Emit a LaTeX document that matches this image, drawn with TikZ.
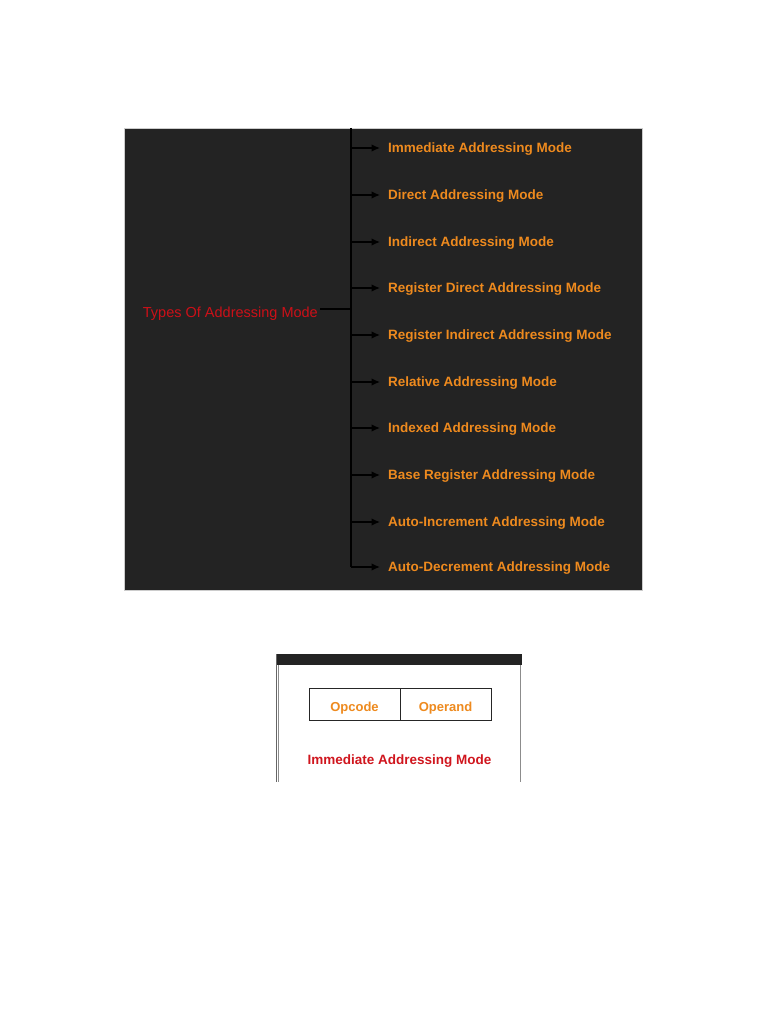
\documentclass[tikz,border=0pt]{standalone}
\usepackage{fontspec}
\setmainfont{Liberation Sans}
\usetikzlibrary{arrows.meta}
\definecolor{panel}{HTML}{232323}
\definecolor{modeorange}{HTML}{EE8A1E}
\definecolor{rootred}{HTML}{CC1018}
\definecolor{capred}{HTML}{D0161E}
\tikzset{
  mode/.style={anchor=west, inner xsep=8pt, inner ysep=0pt, text height=9.7pt, text depth=0pt,
    font=\fontsize{13.5}{15}\selectfont\bfseries, text=modeorange},
  spine/.style={black, line width=1.5pt},
  branch/.style={black, line width=1.3pt, -{Latex[length=8.5pt,width=7.5pt]}},
  field/.style={draw=black!85, line width=1pt, minimum width=91pt, minimum height=32pt,
    inner sep=0pt, text height=14pt, text depth=0pt,
    font=\fontsize{13}{15}\selectfont\bfseries, text=modeorange},
}
\begin{document}
\begin{tikzpicture}[x=1pt,y=-1pt]
\useasboundingbox (0,0) rectangle (768,1024);
\fill[white] (0,0) rectangle (768,1024);
% dark panel
\fill[panel] (124,128) rectangle (642,590);
\draw[black!20, line width=0.6pt] (124,128) rectangle (642,590);
% root
\node[anchor=east, inner xsep=2pt, inner ysep=1pt, text height=10pt, text depth=0pt,
  font=\fontsize{14.5}{16}\selectfont, text=rootred] (root) at (320,312) {Types Of Addressing Mode};
\coordinate (top) at (351,128);
\coordinate (junc) at (351,309);
\coordinate (bot) at (351,567);
\draw[spine] (top) -- (bot);
\draw[black, line width=1.5pt] (root.east |- junc) -- (junc);
% modes
\foreach \i/\y/\t in {1/148/Immediate Addressing Mode,
                      2/195/Direct Addressing Mode,
                      3/242/Indirect Addressing Mode,
                      4/288/Register Direct Addressing Mode,
                      5/335/Register Indirect Addressing Mode,
                      6/382/Relative Addressing Mode,
                      7/428/Indexed Addressing Mode,
                      8/475/Base Register Addressing Mode,
                      9/522/Auto-Increment Addressing Mode,
                      10/567/Auto-Decrement Addressing Mode}{
  \node[mode] (m\i) at (380,\y) {\t};
  \coordinate (s\i) at (351,\y);
  \draw[branch] (s\i) -- (m\i.west);
}
% bottom picture
\fill[panel] (276,654) rectangle (522,665);
\draw[black!45, line width=0.8pt] (278,665) -- (278,782);
\draw[black!45, line width=0.8pt] (520.5,665) -- (520.5,782);
\draw[black!60, line width=0.8pt] (276,654) -- (276,782);
\node[field] (opcode) at (354.5,704) {Opcode};
\node[field] (operand) at (445.5,704) {Operand};
\node[inner sep=0pt, text height=9.7pt, text depth=0pt,
  font=\fontsize{13.5}{15}\selectfont\bfseries, text=capred] (cap) at (399.5,760) {Immediate Addressing Mode};
\end{tikzpicture}
\end{document}
